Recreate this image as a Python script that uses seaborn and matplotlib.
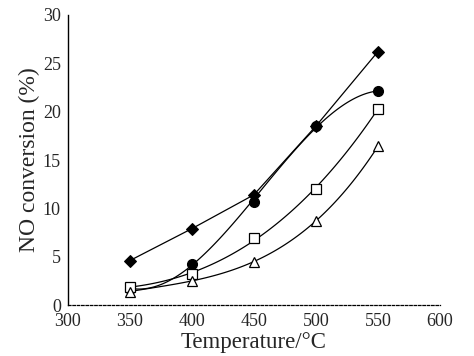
import matplotlib
matplotlib.use("Agg")
import matplotlib.pyplot as plt
import numpy as np
import pandas as pd
import seaborn as sns

temperature = [350, 400, 450, 500, 550]
conv_diamond = [4.6, 7.9, 11.4, 18.5, 26.2]
conv_circle = [1.7, 4.3, 10.7, 18.5, 22.1]
conv_square = [1.9, 3.2, 6.9, 12.0, 20.3]
conv_triangle = [1.4, 2.5, 4.5, 8.7, 16.4]

x_ticks = [300, 350, 400, 450, 500, 550, 600]
y_ticks = [0, 5, 10, 15, 20, 25, 30]

sns.set_theme(style="white")
plt.rcParams["font.family"] = ["Liberation Serif", "DejaVu Serif"]

fig = plt.figure(figsize=(4.74, 3.56), dpi=100)
ax = fig.add_axes([0.143, 0.143, 0.785, 0.815])

line_kw = dict(color="black", linewidth=0.9)

# fitted curves
for series in (conv_circle, conv_square, conv_triangle):
    sns.regplot(x=temperature, y=series, order=3, ci=None, scatter=False,
                truncate=True, line_kws=line_kw, ax=ax)

# straight segments for the diamond series
sns.lineplot(x=temperature, y=conv_diamond, color="black", linewidth=0.9,
             marker="D", markersize=6, markerfacecolor="black",
             markeredgecolor="black", ax=ax)

ax.plot(temperature, conv_circle, linestyle="none", marker="o", markersize=7,
        markerfacecolor="black", markeredgecolor="black")
ax.plot(temperature, conv_square, linestyle="none", marker="s", markersize=7,
        markerfacecolor="white", markeredgecolor="black", markeredgewidth=0.9)
ax.plot(temperature, conv_triangle, linestyle="none", marker="^", markersize=7,
        markerfacecolor="white", markeredgecolor="black", markeredgewidth=0.9)

ax.set_xlim(300, 600)
ax.set_ylim(0, 30)
ax.set_xticks(x_ticks)
ax.set_yticks(y_ticks)
ax.tick_params(axis="both", labelsize=13, length=4, width=0.8, color="black",
               direction="out", pad=1)
ax.tick_params(axis="x", length=2, pad=4)

ax.spines["top"].set_visible(False)
ax.spines["right"].set_visible(False)
ax.spines["left"].set_color("black")
ax.spines["left"].set_linewidth(1.0)
ax.spines["bottom"].set_color("black")
ax.spines["bottom"].set_linewidth(0.9)
ax.spines["bottom"].set_linestyle((0, (2, 1.5)))

ax.set_xlabel("Temperature/°C", fontsize=16.5, labelpad=1)
ax.set_ylabel("NO conversion (%)", fontsize=17, labelpad=2)

fig.savefig("out.png", dpi=100)
